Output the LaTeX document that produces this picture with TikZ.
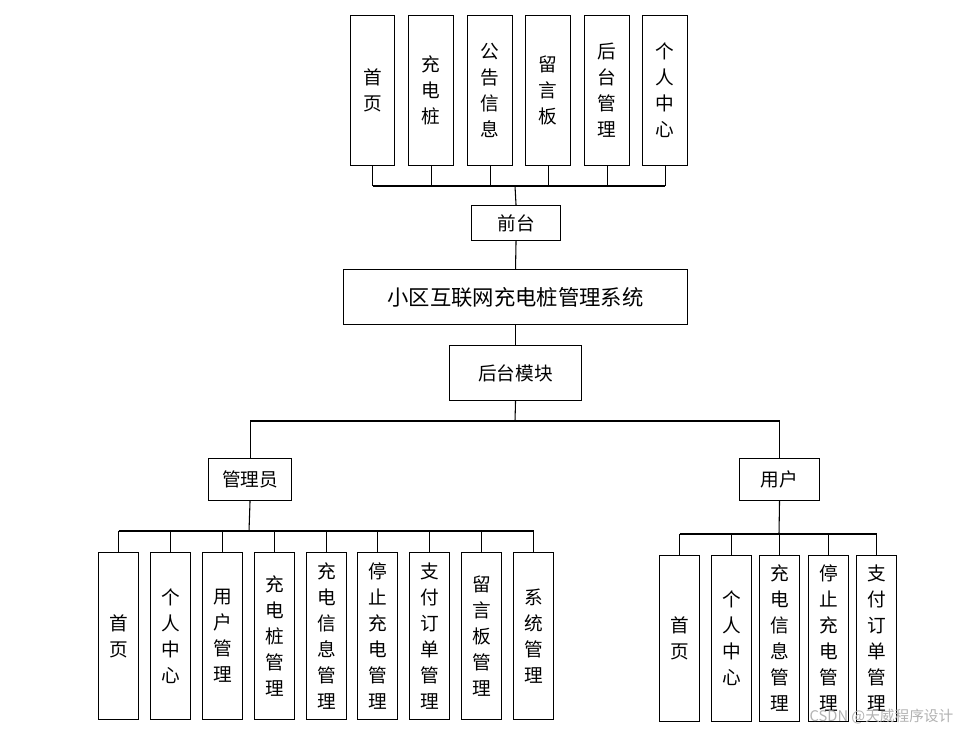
\documentclass[tikz,border=0pt]{standalone}
\usepackage{fontspec}
\setmainfont{Noto Sans CJK SC}
\begin{document}
\begin{tikzpicture}[x=0.75pt,y=-0.75pt,
  bx/.style={draw,line width=0.8pt,fill=white,font=\fontsize{14}{19.5}\selectfont,align=center,inner sep=0pt},
  ln/.style={line width=0.8pt}]
\useasboundingbox (0,0) rectangle (972,736);
\newcommand{\mybox}[6]{\node[bx,minimum width=#3*0.75pt-#2*0.75pt,minimum height=#5*0.75pt-#4*0.75pt,anchor=north west] (#1) at (#2,#4) {#6};}
% top
\mybox{t1}{350}{394}{15}{165}{首\\页}
\mybox{t2}{408}{453}{15}{165}{充\\电\\桩}
\mybox{t3}{467}{512}{15}{165}{公\\告\\信\\息}
\mybox{t4}{525}{570}{15}{165}{留\\言\\板}
\mybox{t5}{584}{629}{15}{165}{后\\台\\管\\理}
\mybox{t6}{642}{687}{15}{165}{个\\人\\中\\心}
\mybox{front}{471}{560}{205}{240}{前台}
\mybox{main}{343}{687}{269}{324}{\fontsize{16}{20}\selectfont 小区互联网充电桩管理系统}
\mybox{back}{449}{581}{345}{400}{后台模块}
\mybox{adm}{208}{291}{458}{500}{管理员}
\mybox{usr}{739}{819}{458}{500}{用户}
% admin children
\mybox{a1}{98}{138}{552}{719}{首\\页}
\mybox{a2}{150}{190}{552}{719}{个\\人\\中\\心}
\mybox{a3}{202}{242}{552}{719}{用\\户\\管\\理}
\mybox{a4}{254}{294}{552}{719}{充\\电\\桩\\管\\理}
\mybox{a5}{306}{346}{552}{719}{充\\电\\信\\息\\管\\理}
\mybox{a6}{357}{397}{552}{719}{停\\止\\充\\电\\管\\理}
\mybox{a7}{409}{449}{552}{719}{支\\付\\订\\单\\管\\理}
\mybox{a8}{461}{501}{552}{719}{留\\言\\板\\管\\理}
\mybox{a9}{513}{553}{552}{719}{系\\统\\管\\理}
% user children
\mybox{u1}{659}{699}{555}{721}{首\\页}
\mybox{u2}{711}{751}{555}{721}{个\\人\\中\\心}
\mybox{u3}{759}{799}{555}{721}{充\\电\\信\\息\\管\\理}
\mybox{u4}{808}{848}{555}{721}{停\\止\\充\\电\\管\\理}
\mybox{u5}{856}{896}{555}{721}{支\\付\\订\\单\\管\\理}
% connectors
\coordinate (tb) at (515,186);
\foreach \n in {t1,t2,t3,t4,t5,t6} \draw[ln] (\n.south) -- (\n.south |- tb);
\draw[ln] (t1.south |- tb) -- (t6.south |- tb);
\draw[ln] (tb) -- (front.north);
\draw[ln] (front.south) -- (main.north);
\draw[ln] (main.south) -- (back.north);
\coordinate (bb) at (515,421);
\draw[ln] (back.south) -- (bb);
\draw[ln] (adm.north |- bb) -- (usr.north |- bb);
\draw[ln] (adm.north |- bb) -- (adm.north);
\draw[ln] (usr.north |- bb) -- (usr.north);
\coordinate (ab) at (249,531);
\draw[ln] (adm.south) -- (ab);
\draw[ln] (a1.north |- ab) -- (a9.north |- ab);
\foreach \n in {a1,a2,a3,a4,a5,a6,a7,a8,a9} \draw[ln] (\n.north |- ab) -- (\n.north);
\coordinate (ub) at (779,534);
\draw[ln] (usr.south) -- (ub);
\draw[ln] (u1.north |- ub) -- (u5.north |- ub);
\foreach \n in {u1,u2,u3,u4,u5} \draw[ln] (\n.north |- ub) -- (\n.north);
\node[text=gray!60,font=\fontsize{11}{13}\selectfont,anchor=east] (wm) at (958,717) {CSDN @天威程序设计};
\end{tikzpicture}
\end{document}
